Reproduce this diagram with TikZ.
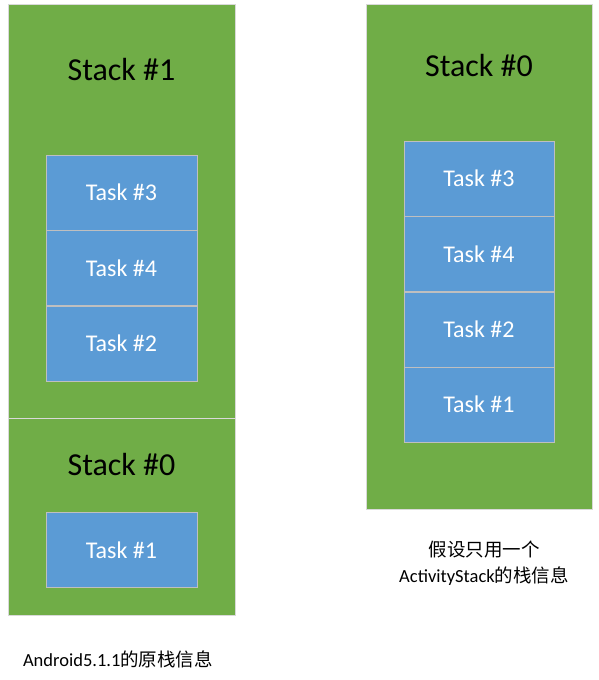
\documentclass[tikz,border=0pt]{standalone}
\usepackage{fontspec}
\setmainfont{Carlito}
\newfontfamily\cjk{Noto Sans CJK SC}
\usetikzlibrary{positioning}

\definecolor{stackgreen}{HTML}{70AD47}
\definecolor{taskblue}{HTML}{5B9BD5}

\tikzset{
  stackbox/.style={draw=gray!30, fill=stackgreen, anchor=north west, inner sep=0pt, minimum width=227pt},
  taskbox/.style={draw=gray!50, fill=taskblue, text=white, inner sep=0pt,
    minimum width=151pt, minimum height=75pt, font=\fontsize{24}{26}\selectfont},
  stacklabel/.style={font=\fontsize{32}{34}\selectfont},
  caption/.style={align=center, font=\fontsize{18.5}{26}\selectfont}
}

\begin{document}
\begin{tikzpicture}[x=1pt, y=-1pt]

  \newcommand\XLEFT{121.5};
  \newcommand\XRIGHT{479};

  \useasboundingbox (0,0) rectangle (598,680);

  % left: Android 5.1.1
  \node[stackbox, minimum height=414pt] (stackA) at (8,4) {};
  \node[stackbox, minimum height=197pt] (stackB) at (8,418) {};

  \node[stacklabel] (labelA) at (\XLEFT, 70) {Stack \#1};
  \node[stacklabel] (labelB) at (\XLEFT, 465) {Stack \#0};

  \node[taskbox] (lt3) at (\XLEFT, 192.5) {Task \#3};
  \node[taskbox, below=0pt of lt3] (lt4) {Task \#4};
  \node[taskbox, below=0pt of lt4] (lt2) {Task \#2};
  \node[taskbox] (lt1) at (\XLEFT, 550) {Task \#1};

  \node[caption] (capA) at (118, 659) {Android5.1.1{\cjk 的原栈信息}};

  % right: one ActivityStack only
  \node[stackbox, minimum width=226pt, minimum height=505pt] (stackC) at (366,4) {};
  \node[stacklabel] (labelC) at (\XRIGHT, 66) {Stack \#0};

  \node[taskbox, minimum width=150pt] (rt3) at (\XRIGHT, 178.5) {Task \#3};
  \node[taskbox, minimum width=150pt, below=0pt of rt3] (rt4) {Task \#4};
  \node[taskbox, minimum width=150pt, below=0pt of rt4] (rt2) {Task \#2};
  \node[taskbox, minimum width=150pt, below=0pt of rt2] (rt1) {Task \#1};

  \node[caption] (capC) at (484, 563) {{\cjk 假设只用一个}\\ActivityStack{\cjk 的栈信息}};

\end{tikzpicture}
\end{document}
